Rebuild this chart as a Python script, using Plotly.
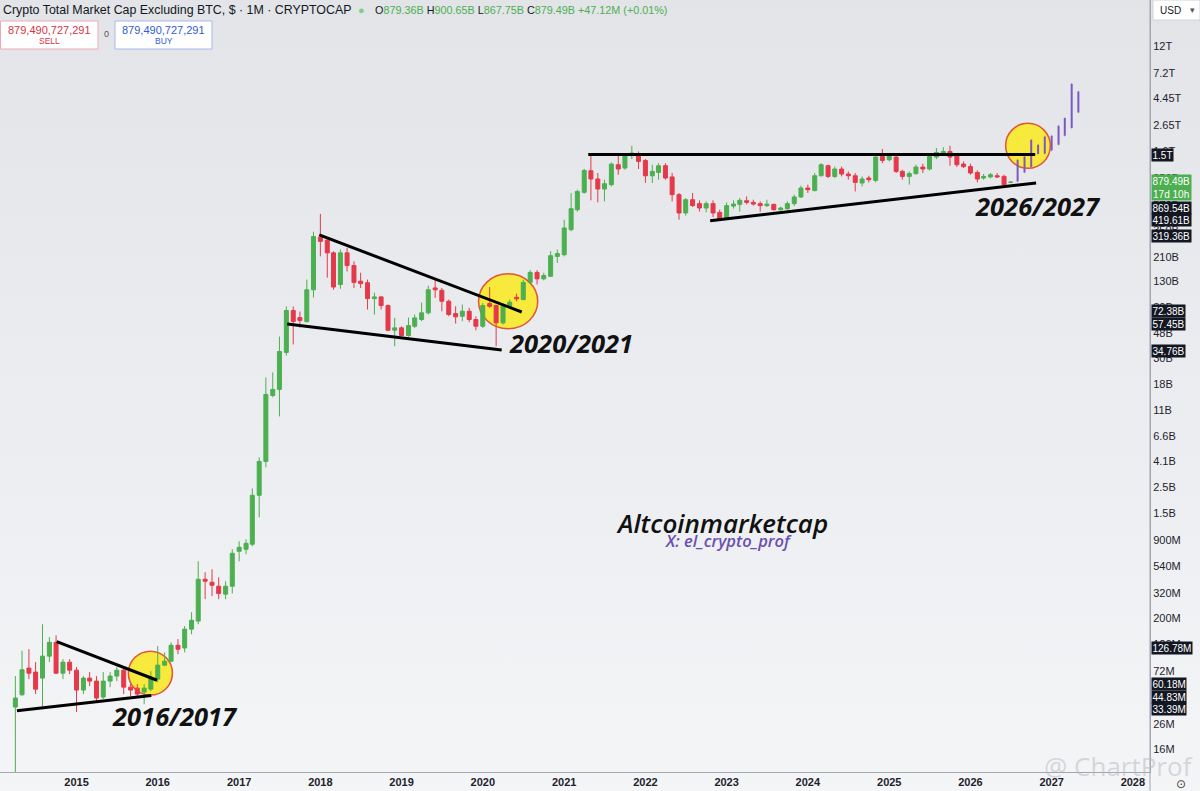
import base64
import pandas as pd
import plotly.graph_objects as go

# monthly candles, values in billions of USD (Apr 2014 -> Jul 2026)
open_b = [
    0.0359, 0.0455, 0.0760, 0.0704, 0.0627, 0.0957, 0.125, 0.0690, 0.0853,
    0.0731, 0.0498, 0.0627, 0.0592, 0.0435, 0.0592, 0.0652, 0.0731, 0.0527, 0.0517, 0.0479, 0.0507,
    0.0615, 0.0805, 0.0869, 0.118, 0.112, 0.161, 0.188, 0.421, 0.397, 0.368, 0.316, 0.368,
    0.721, 0.750, 0.826, 2.12, 4.07, 14.5, 16.3, 33.2, 74.4, 65.0, 60.2, 111,
    305, 288, 226, 123, 226, 177, 131, 127, 93.7, 96.8, 81.9, 50.9,
    53.3, 46.0, 55.0, 62.6, 71.2, 115, 110, 89.0, 70.2, 66.7, 73.4, 62.6,
    55.0, 85.1, 81.9, 58.7, 80.8, 96.1, 91.9, 128, 155, 137, 144, 211,
    218, 353, 519, 725, 1099, 937, 773, 840, 1234, 1158, 1495, 1524,
    1340, 998, 1064, 1210, 975, 693, 487, 629, 583, 536, 583, 493,
    442, 556, 575, 617, 598, 583, 561, 575, 519, 529, 583, 663,
    788, 750, 998, 1210, 985, 1136, 1032, 998, 868, 955, 912, 1447,
    1358, 1430, 1085, 985, 1040, 1180, 1136, 1430, 1524, 1593, 1467, 1250,
    1190, 1064, 955, 975, 998, 985, 879.36,
]
high_b = [
    0.0652, 0.106, 0.1095, 0.0853, 0.177, 0.138, 0.143, 0.0903, 0.0903,
    0.0775, 0.0652, 0.0704, 0.0652, 0.0704, 0.0704, 0.0775, 0.0775, 0.0558, 0.0558, 0.0558, 0.0717,
    0.116, 0.103, 0.125, 0.133, 0.171, 0.223, 0.595, 0.482, 0.510, 0.437, 0.405, 0.750,
    0.875, 0.909, 2.42, 4.40, 20.5, 22.6, 45.1, 80.4, 80.4, 73.0, 135, 340,
    478, 296, 233, 241, 249, 192, 154, 135, 105, 98.0, 83.5, 64.6,
    55.0, 65.0, 68.9, 86.8, 120, 135, 115, 91.9, 80.8, 83.5, 78.3, 66.7,
    86.3, 117, 83.5, 85.1, 91.9, 103, 135, 162, 162, 154, 233, 241,
    428, 716, 763, 1136, 1495, 1052, 925, 1289, 1467, 1545, 1778, 1593,
    1376, 1234, 1270, 1270, 1052, 716, 650, 716, 621, 609, 621, 519,
    596, 621, 650, 670, 629, 609, 629, 583, 549, 609, 693, 824,
    840, 1052, 1270, 1234, 1190, 1190, 1085, 1052, 985, 998, 1495, 1669,
    1524, 1467, 1120, 1085, 1234, 1260, 1495, 1701, 1730, 1778, 1495, 1315,
    1260, 1106, 1032, 1052, 1052, 1018, 900.65,
]
low_b = [
    0.005, 0.0446, 0.0615, 0.0461, 0.0366, 0.0853, 0.0677, 0.0615, 0.0677,
    0.0326, 0.0461, 0.0537, 0.0403, 0.0419, 0.0527, 0.0592, 0.0461, 0.0443, 0.0443, 0.0380, 0.0488,
    0.0580, 0.0789, 0.0853, 0.0995, 0.103, 0.146, 0.177, 0.287, 0.304, 0.287, 0.287, 0.320,
    0.595, 0.681, 0.794, 1.39, 3.63, 14.0, 9.68, 31.3, 38.7, 53.6, 59.0, 95.5,
    211, 140, 111, 113, 158, 115, 115, 75.8, 68.9, 75.8, 50.0, 37.4,
    45.4, 44.9, 53.3, 60.6, 68.9, 95.0, 73.4, 66.7, 57.9, 60.6, 59.4, 50.9,
    53.3, 78.3, 37.4, 56.8, 78.3, 89.0, 90.7, 127, 123, 133, 142, 186,
    211, 342, 500, 706, 621, 598, 609, 813, 1018, 1120, 1376, 1136,
    868, 868, 925, 925, 609, 428, 463, 547, 500, 493, 451, 420,
    434, 530, 500, 575, 561, 500, 547, 510, 510, 519, 556, 650,
    716, 738, 985, 955, 955, 985, 925, 738, 813, 878, 878, 1270,
    1315, 1052, 925, 840, 1018, 1052, 1106, 1376, 1467, 1210, 1180, 1158,
    1018, 878, 925, 948, 955, 813, 867.75,
]
close_b = [
    0.0427, 0.0736, 0.0690, 0.0507, 0.0957, 0.125, 0.0690, 0.0853, 0.0731,
    0.0498, 0.0627, 0.0592, 0.0427, 0.0592, 0.0652, 0.0731, 0.0527, 0.0498, 0.0461, 0.0517, 0.0615,
    0.0805, 0.0869, 0.118, 0.1095, 0.161, 0.191, 0.421, 0.405, 0.375, 0.320, 0.368, 0.694,
    0.779, 0.841, 2.12, 4.07, 14.8, 16.3, 33.8, 74.4, 60.2, 61.4, 111, 309,
    282, 226, 117, 226, 177, 128, 125, 93.7, 96.8, 81.9, 50.9, 53.3,
    46.0, 55.7, 64.6, 71.2, 111, 111, 89.0, 68.9, 65.9, 73.4, 62.6, 55.0,
    81.9, 80.8, 58.7, 81.9, 87.3, 93.2, 128, 155, 137, 146, 214, 223,
    365, 529, 738, 1106, 937, 773, 856, 1250, 1136, 1495, 1545, 1315,
    998, 1085, 1210, 955, 693, 487, 629, 561, 536, 583, 487, 434,
    561, 578, 621, 598, 578, 561, 578, 519, 536, 583, 663, 788,
    763, 998, 1234, 985, 1136, 1032, 998, 878, 937, 925, 1430, 1340,
    1447, 1085, 985, 1040, 1180, 1136, 1447, 1563, 1593, 1430, 1234, 1190,
    1052, 937, 985, 1018, 975, 840, 879.49,
]
assert len(open_b) == len(high_b) == len(low_b) == len(close_b) == 148

# projected bars (purple), Aug 2026 -> May 2027
proj_low_b = [894.6, 1064, 1180, 1516, 1524, 1624, 1813, 2156, 2500, 3375]
proj_high_b = [1358, 1447, 1995, 1813, 2127, 2156, 2612, 3030, 5860, 5050]

# trend lines (endpoints)
sup_2015_x = ["2014-04-08", "2015-12-03"]
sup_2015_y = [33.39e6, 44.83e6]
res_2015_x = ["2014-10-04", "2015-12-29"]
res_2015_y = [126.78e6, 60.18e6]
res_2019_x = ["2017-12-27", "2020-06-24"]
res_2019_y = [319.36e9, 72.38e9]
sup_2019_x = ["2017-08-05", "2020-03-26"]
sup_2019_y = [57.45e9, 34.76e9]
res_2024_x = ["2021-04-19", "2026-10-19"]
res_2024_y = [1.5e12, 1.5e12]
sup_2024_x = ["2022-10-19", "2026-10-23"]
sup_2024_y = [419.61e9, 869.54e9]

# breakout circles: (x0, x1, y0, y1)
circles = [
    ("2015-08-22", "2016-03-07", 45.2e6, 105.4e6),
    ("2019-12-13", "2020-09-04", 52.4e9, 151e9),
    ("2026-06-08", "2026-12-26", 1.153e12, 2.74e12),
]

year_ticks = list(range(2015, 2029))
price_ticks = [16e6, 26e6, 44e6, 72e6, 120e6, 200e6, 320e6, 540e6, 900e6,
               1.5e9, 2.5e9, 4.1e9, 6.6e9, 11e9, 18e9, 30e9, 48e9, 80e9, 130e9,
               210e9, 350e9, 570e9, 950e9, 1.6e12, 2.65e12, 4.45e12, 7.2e12, 12e12]
price_tick_text = ["16M", "26M", "44M", "72M", "120M", "200M", "320M", "540M", "900M",
                   "1.5B", "2.5B", "4.1B", "6.6B", "11B", "18B", "30B", "48B", "80B", "130B",
                   "210B", "350B", "570B", "950B", "1.6T", "2.65T", "4.45T", "7.2T", "12T"]

# price scale labels (text, pixel row of centre)
axis_labels = [("1.5T", 155), ("869.54B", 207.5), ("419.61B", 219.5), ("319.36B", 236),
               ("72.38B", 311), ("57.45B", 324), ("34.76B", 351), ("126.78M", 647.5),
               ("60.18M", 684), ("44.83M", 697), ("33.39M", 709)]

UP = "#4caf50"
DOWN = "#e5394a"
PURPLE = "#7e57c2"
W, H = 1200, 791
PW, PH = 1150, 772  # plot area in pixels


def px(x):
    return x / PW


def py(y):
    return 1 - y / PH


def note(text, x, y, size, color, family="Liberation Sans", xanchor="center", **kw):
    fig.add_annotation(text=text, x=px(x), y=py(y), xref="paper", yref="paper",
                       xanchor=xanchor, yanchor="middle", showarrow=False,
                       font=dict(family=family, size=size, color=color, **kw))


B = 1e9
dates = pd.date_range("2014-04-01", periods=len(open_b), freq="MS")
proj_dates = pd.date_range("2026-08-01", periods=len(proj_low_b), freq="MS")

fig = go.Figure()
fig.add_trace(go.Candlestick(
    x=dates,
    open=[v * B for v in open_b], high=[v * B for v in high_b],
    low=[v * B for v in low_b], close=[v * B for v in close_b],
    increasing=dict(line=dict(color=UP, width=1), fillcolor=UP),
    decreasing=dict(line=dict(color=DOWN, width=1), fillcolor=DOWN),
    whiskerwidth=0, hoverinfo="skip", showlegend=False,
))
fig.add_trace(go.Ohlc(
    x=proj_dates,
    open=[v * B for v in proj_low_b], high=[v * B for v in proj_high_b],
    low=[v * B for v in proj_low_b], close=[v * B for v in proj_high_b],
    increasing=dict(line=dict(color=PURPLE, width=2)),
    decreasing=dict(line=dict(color=PURPLE, width=2)),
    tickwidth=0.05, hoverinfo="skip", showlegend=False,
))
for lx, ly in [(sup_2015_x, sup_2015_y), (res_2015_x, res_2015_y), (res_2019_x, res_2019_y),
               (sup_2019_x, sup_2019_y), (res_2024_x, res_2024_y), (sup_2024_x, sup_2024_y)]:
    fig.add_trace(go.Scatter(x=lx, y=ly, mode="lines", line=dict(color="black", width=3),
                             hoverinfo="skip", showlegend=False))

for x0, x1, y0, y1 in circles:
    fig.add_shape(type="circle", xref="x", yref="y", x0=x0, x1=x1, y0=y0, y1=y1,
                  fillcolor="#f7ea3c", line=dict(color="#e0553a", width=1.5), layer="below")

# soft vertical gradient background
svg = ('<svg xmlns="http://www.w3.org/2000/svg" width="100" height="100" viewBox="0 0 100 100" '
       'preserveAspectRatio="none"><defs><linearGradient id="g" x1="0" y1="0" x2="0" y2="1">'
       '<stop offset="0" stop-color="#e2e4e8"/><stop offset="1" stop-color="#f4f5f7"/>'
       '</linearGradient></defs><rect width="100" height="100" fill="url(#g)"/></svg>')
fig.add_layout_image(dict(source="data:image/svg+xml;base64," + base64.b64encode(svg.encode()).decode(),
                          xref="paper", yref="paper", x=0, y=1, sizex=W / PW, sizey=H / PH,
                          xanchor="left", yanchor="top", sizing="stretch", layer="below"))

tick_font = dict(family="Liberation Sans", size=11, color="#1e222d")
fig.update_layout(
    width=W, height=H,
    margin=dict(l=0, r=W - PW, t=0, b=H - PH),
    paper_bgcolor="#eceef1", plot_bgcolor="rgba(0,0,0,0)",
    showlegend=False, hovermode=False,
    boxgap=0.2, boxgroupgap=0.2,
    xaxis=dict(type="date", range=["2014-01-22", "2028-03-18"],
               rangeslider=dict(visible=False),
               tickvals=[f"{yr}-01-01" for yr in year_ticks], ticktext=[str(yr) for yr in year_ticks],
               tickfont=dict(family="Liberation Sans", size=11, color="#1e222d", weight="bold"),
               showgrid=False, zeroline=False, showline=True, linecolor="#a3a6af", linewidth=1,
               ticks=""),
    yaxis=dict(type="log", side="right", range=[7.012, 13.469],
               tickvals=price_ticks, ticktext=price_tick_text, tickfont=tick_font,
               showgrid=False, zeroline=False, showline=True, linecolor="#a3a6af", linewidth=1,
               ticks=""),
)

# separator running through the time-axis strip
fig.add_shape(type="line", xref="paper", yref="paper", x0=1, x1=1, y0=py(H), y1=1,
              line=dict(color="#a3a6af", width=1))

# header
note("Crypto Total Market Cap Excluding BTC, $ · 1M · CRYPTOCAP", 1, 10, 12.4, "#131722", xanchor="left")
note("●", 361, 10, 11, "#7fcf8a")
dark = '<span style="color:#131722">{}</span>'
ohlc_text = (dark.format("O") + "879.36B " + dark.format("H") + "900.65B " + dark.format("L")
             + "867.75B " + dark.format("C") + "879.49B +47.12M (+0.01%)")
note(ohlc_text, 373, 10, 10.8, UP, xanchor="left")

# sell / buy boxes
for x0, x1, edge, col, word in [(0.5, 98, "#f0a9b0", "#d9343f", "SELL"), (115, 212, "#a9b8ea", "#2f5bd8", "BUY")]:
    fig.add_shape(type="rect", xref="paper", yref="paper", x0=px(x0), x1=px(x1), y0=py(49), y1=py(21),
                  fillcolor="white", line=dict(color=edge, width=1))
    note("879,490,727,291", (x0 + x1) / 2, 29.5, 11, col)
    note(word, (x0 + x1) / 2, 41.5, 8.5, col)
note("0", 106.5, 34, 9, "#555")

# currency selector
fig.add_shape(type="rect", xref="paper", yref="paper", x0=px(1153), x1=px(1200), y0=py(20), y1=py(0),
              fillcolor="white", line=dict(color="#d1d4dc", width=1))
note("USD", 1158, 10, 10, "#131722", xanchor="left")
note("▾", 1192, 10, 9, "#555", family="DejaVu Sans")

# price scale labels
for txt, row in axis_labels:
    fig.add_annotation(text=txt, x=px(1151), y=py(row), xref="paper", yref="paper",
                       xanchor="left", yanchor="middle", showarrow=False, bgcolor="#131722",
                       borderpad=0.5, font=dict(family="Liberation Sans", size=10, color="white"))
fig.add_annotation(text="879.49B<br>17d 10h", x=px(1151), y=py(188), xref="paper", yref="paper",
                   xanchor="left", yanchor="middle", showarrow=False, bgcolor=UP, borderpad=0.5,
                   font=dict(family="Liberation Sans", size=10, color="white"))

# chart texts
for txt, cx, cy in [("2016/2017", 175, 716), ("2020/2021", 571, 343), ("2026/2027", 1038, 206)]:
    note(txt, cx, cy, 25.5, "#111", family="Open Sans", weight="bold", style="italic")
note("Altcoinmarketcap", 722, 523, 26, "#111", family="Open Sans", weight=600, style="italic")
note("X: el_crypto_prof", 728, 540, 16.5, "#6b4fb0", family="Open Sans", weight=600, style="italic")

# watermark and settings icon
note("@ ChartProf", 1118, 766, 26, "rgba(180,183,190,0.5)", family="Open Sans")
note("⊙", 1181, 784, 12, "#444", family="DejaVu Sans")

fig.write_html("out.html", config={"displayModeBar": False},
               post_script="document.body.style.margin='0';")
